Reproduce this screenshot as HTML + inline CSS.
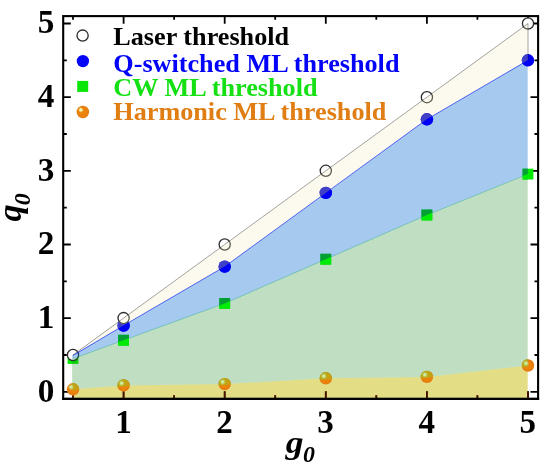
<!DOCTYPE html>
<html><head><meta charset="utf-8"><title>chart</title>
<style>
html,body{margin:0;padding:0;background:#fff;}
svg{display:block;}
text{font-family:"Liberation Serif","Times New Roman",serif;font-weight:bold;}
</style></head><body>
<svg width="550" height="469" viewBox="0 0 550 469">
<defs>
<radialGradient id="orb" cx="0.5" cy="0.5" r="0.5">
<stop offset="0" stop-color="#ee860e"/><stop offset="0.8" stop-color="#ea800c"/><stop offset="1" stop-color="#e07408"/>
</radialGradient>
<radialGradient id="hl" cx="0.5" cy="0.5" r="0.5">
<stop offset="0" stop-color="#f4ffe0" stop-opacity="1"/><stop offset="0.4" stop-color="#eef8b0" stop-opacity="0.95"/><stop offset="1" stop-color="#f0b040" stop-opacity="0"/>
</radialGradient>
<linearGradient id="orb2" x1="0" y1="0" x2="0.12" y2="1">
<stop offset="0" stop-color="#f4b818"/><stop offset="0.5" stop-color="#f0ae14"/><stop offset="0.52" stop-color="#ee840c"/><stop offset="1" stop-color="#e67a0a"/>
</linearGradient>
<clipPath id="cCream"><polygon points="72.1,355.0 123.6,318.1 224.7,244.5 325.8,170.8 426.9,97.2 527.7,23.5 527.7,60.3 426.9,119.3 325.8,192.9 224.7,266.6 123.6,325.5 72.1,355.5"/></clipPath>
<clipPath id="cBlue"><polygon points="72.1,355.5 123.6,325.5 224.7,266.6 325.8,192.9 426.9,119.3 527.7,60.3 527.7,174.1 426.9,215.0 325.8,259.2 224.7,303.4 123.6,340.2 72.1,358.7"/></clipPath>
<clipPath id="cGreen"><polygon points="72.1,358.7 123.6,340.2 224.7,303.4 325.8,259.2 426.9,215.0 527.7,174.1 527.7,365.5 426.9,376.9 325.8,378.3 224.7,384.1 123.6,385.4 72.1,389.3"/></clipPath>
<clipPath id="cGreen2"><polygon points="72.1,358.7 123.6,340.2 224.7,303.4 325.8,259.2 426.9,215.0 527.7,174.1 527.7,366.7 426.9,378.1 325.8,379.5 224.7,385.3 123.6,386.6 72.1,390.5"/></clipPath>
<mask id="notOpen" maskUnits="userSpaceOnUse" x="0" y="0" width="550" height="469"><rect width="550" height="469" fill="#fff"/><circle cx="73.0" cy="355.0" r="6.25" fill="#000"/><circle cx="123.6" cy="318.1" r="6.25" fill="#000"/><circle cx="224.7" cy="244.5" r="6.25" fill="#000"/><circle cx="325.8" cy="170.8" r="6.25" fill="#000"/><circle cx="426.9" cy="97.2" r="6.25" fill="#000"/><circle cx="528.0" cy="23.5" r="6.25" fill="#000"/></mask>
<g id="sph2"><circle r="6.2" fill="url(#orb)"/></g>
<linearGradient id="olv" x1="0" y1="0" x2="1" y2="0.6"><stop offset="0" stop-color="#b4aa18"/><stop offset="0.5" stop-color="#bca616"/><stop offset="1" stop-color="#d09a10"/></linearGradient>
<radialGradient id="hl2" cx="0.5" cy="0.5" r="0.5">
<stop offset="0" stop-color="#d8f8c8" stop-opacity="1"/><stop offset="0.35" stop-color="#c4ec9c" stop-opacity="0.95"/><stop offset="1" stop-color="#c8c040" stop-opacity="0"/>
</radialGradient>
<g id="sph"><circle r="6.2" fill="url(#orb)"/><circle cx="-2" cy="-2.1" r="3" fill="url(#hl)"/></g>
</defs>
<rect width="550" height="469" fill="#fff"/>

<rect x="63.2" y="16.1" width="474.9" height="382.8" fill="none" stroke="#000" stroke-width="2.1"/>
<path d="M63.2 391.8h7.6 M538.1 391.8h-7.6 M63.2 318.1h7.6 M538.1 318.1h-7.6 M63.2 244.5h7.6 M538.1 244.5h-7.6 M63.2 170.8h7.6 M538.1 170.8h-7.6 M63.2 97.2h7.6 M538.1 97.2h-7.6 M63.2 23.5h7.6 M538.1 23.5h-7.6 M63.2 355.0h3.6 M538.1 355.0h-3.6 M63.2 281.3h3.6 M538.1 281.3h-3.6 M63.2 207.7h3.6 M538.1 207.7h-3.6 M63.2 134.0h3.6 M538.1 134.0h-3.6 M63.2 60.3h3.6 M538.1 60.3h-3.6 M123.6 16.1v7.6 M123.6 398.9v-7.6 M224.7 16.1v7.6 M224.7 398.9v-7.6 M325.8 16.1v7.6 M325.8 398.9v-7.6 M426.9 16.1v7.6 M426.9 398.9v-7.6 M528.0 16.1v7.6 M528.0 398.9v-7.6 M73.0 16.1v3.6 M73.0 398.9v-3.6 M174.1 16.1v3.6 M174.1 398.9v-3.6 M275.2 16.1v3.6 M275.2 398.9v-3.6 M376.3 16.1v3.6 M376.3 398.9v-3.6 M477.4 16.1v3.6 M477.4 398.9v-3.6" stroke="#000" stroke-width="1.8" fill="none"/>
<polygon points="72.1,389.3 123.6,385.4 224.7,384.1 325.8,378.3 426.9,376.9 527.7,365.5 527.7,398.9 426.9,398.9 325.8,398.9 224.7,398.9 123.6,398.9 72.1,398.9" fill="rgb(199,189,11)" fill-opacity="0.5"/>
<path d="M123.6 398.9v-7.6 M224.7 398.9v-7.6 M325.8 398.9v-7.6 M426.9 398.9v-7.6 M528.0 398.9v-7.6 M73.0 398.9v-3.6 M174.1 398.9v-3.6 M275.2 398.9v-3.6 M376.3 398.9v-3.6 M477.4 398.9v-3.6" stroke="#4a1000" stroke-width="1.8" fill="none"/>
<use href="#sph2" x="73.0" y="389.3"/>
<use href="#sph2" x="123.6" y="385.4"/>
<use href="#sph2" x="224.7" y="384.1"/>
<use href="#sph2" x="325.8" y="378.3"/>
<use href="#sph2" x="426.9" y="376.9"/>
<use href="#sph2" x="528.0" y="365.5"/>
<rect x="67.6" y="353.1" width="10.8" height="10.8" fill="#00ea00"/>
<rect x="118.2" y="334.8" width="10.8" height="10.8" fill="#00ea00"/>
<rect x="219.3" y="298.0" width="10.8" height="10.8" fill="#00ea00"/>
<rect x="320.4" y="253.8" width="10.8" height="10.8" fill="#00ea00"/>
<rect x="421.5" y="209.6" width="10.8" height="10.8" fill="#00ea00"/>
<rect x="522.6" y="168.7" width="10.8" height="10.8" fill="#00ea00"/>
<circle cx="123.6" cy="325.5" r="6.2" fill="#0000f4"/>
<circle cx="224.7" cy="266.6" r="6.2" fill="#0000f4"/>
<circle cx="325.8" cy="192.9" r="6.2" fill="#0000f4"/>
<circle cx="426.9" cy="119.3" r="6.2" fill="#0000f4"/>
<circle cx="528.0" cy="60.3" r="6.2" fill="#0000f4"/>
<circle cx="73.0" cy="355.0" r="5.6" fill="#fff" stroke="#2a2a2a" stroke-width="1.3"/>
<circle cx="123.6" cy="318.1" r="5.6" fill="#fff" stroke="#2a2a2a" stroke-width="1.3"/>
<circle cx="224.7" cy="244.5" r="5.6" fill="#fff" stroke="#2a2a2a" stroke-width="1.3"/>
<circle cx="325.8" cy="170.8" r="5.6" fill="#fff" stroke="#2a2a2a" stroke-width="1.3"/>
<circle cx="426.9" cy="97.2" r="5.6" fill="#fff" stroke="#2a2a2a" stroke-width="1.3"/>
<circle cx="528.0" cy="23.5" r="5.6" fill="#fff" stroke="#2a2a2a" stroke-width="1.3"/>
<polygon points="72.1,355.0 123.6,318.1 224.7,244.5 325.8,170.8 426.9,97.2 527.7,23.5 527.7,60.3 426.9,119.3 325.8,192.9 224.7,266.6 123.6,325.5 72.1,355.5" fill="rgb(243,232,190)" fill-opacity="0.26"/>
<polygon points="72.1,355.5 123.6,325.5 224.7,266.6 325.8,192.9 426.9,119.3 527.7,60.3 527.7,174.1 426.9,215.0 325.8,259.2 224.7,303.4 123.6,340.2 72.1,358.7" fill="rgb(8,105,211)" fill-opacity="0.36"/>
<polygon points="72.1,358.7 123.6,340.2 224.7,303.4 325.8,259.2 426.9,215.0 527.7,174.1 527.7,365.5 426.9,376.9 325.8,378.3 224.7,384.1 123.6,385.4 72.1,389.3" fill="rgb(22,136,29)" fill-opacity="0.27"/>
<polyline points="73.0,355.0 123.6,318.1 224.7,244.5 325.8,170.8 426.9,97.2 528.0,23.5 528.0,60.3" fill="none" stroke="#000" stroke-width="0.9" stroke-opacity="0.4"/>
<polyline points="73.0,355.5 123.6,325.5 224.7,266.6 325.8,192.9 426.9,119.3 528.0,60.3" fill="none" stroke="#0010f0" stroke-width="1.0" stroke-opacity="0.6"/>
<polyline points="73.0,358.7 123.6,340.2 224.7,303.4 325.8,259.2 426.9,215.0 528.0,174.1" fill="none" stroke="#00a080" stroke-width="0.9" stroke-opacity="0.4"/>
<g mask="url(#notOpen)">
<g clip-path="url(#cCream)"><circle cx="123.6" cy="325.5" r="6.2" fill="#4040c6"/><circle cx="224.7" cy="266.6" r="6.2" fill="#4040c6"/><circle cx="325.8" cy="192.9" r="6.2" fill="#4040c6"/><circle cx="426.9" cy="119.3" r="6.2" fill="#4040c6"/><circle cx="528.0" cy="60.3" r="6.2" fill="#4040c6"/></g>
<g clip-path="url(#cBlue)"><circle cx="123.6" cy="325.5" r="6.2" fill="#0000f5"/><circle cx="224.7" cy="266.6" r="6.2" fill="#0000f5"/><circle cx="325.8" cy="192.9" r="6.2" fill="#0000f5"/><circle cx="426.9" cy="119.3" r="6.2" fill="#0000f5"/><circle cx="528.0" cy="60.3" r="6.2" fill="#0000f5"/><rect x="118.2" y="334.8" width="10.8" height="10.8" fill="#00a032"/><rect x="219.3" y="298.0" width="10.8" height="10.8" fill="#00a032"/><rect x="320.4" y="253.8" width="10.8" height="10.8" fill="#00a032"/><rect x="421.5" y="209.6" width="10.8" height="10.8" fill="#00a032"/><rect x="522.6" y="168.7" width="10.8" height="10.8" fill="#00a032"/></g>
<g clip-path="url(#cGreen)"><rect x="118.2" y="334.8" width="10.8" height="10.8" fill="#00eb05"/><rect x="219.3" y="298.0" width="10.8" height="10.8" fill="#00eb05"/><rect x="320.4" y="253.8" width="10.8" height="10.8" fill="#00eb05"/><rect x="421.5" y="209.6" width="10.8" height="10.8" fill="#00eb05"/><rect x="522.6" y="168.7" width="10.8" height="10.8" fill="#00eb05"/></g>
</g>
<g clip-path="url(#cGreen2)"><circle cx="73.0" cy="389.3" r="6.2" fill="url(#olv)"/><circle cx="123.6" cy="385.4" r="6.2" fill="url(#olv)"/><circle cx="224.7" cy="384.1" r="6.2" fill="url(#olv)"/><circle cx="325.8" cy="378.3" r="6.2" fill="url(#olv)"/><circle cx="426.9" cy="376.9" r="6.2" fill="url(#olv)"/><circle cx="528.0" cy="365.5" r="6.2" fill="url(#olv)"/></g>
<circle cx="71.0" cy="387.1" r="3.3" fill="url(#hl2)"/><circle cx="121.6" cy="383.2" r="3.3" fill="url(#hl2)"/><circle cx="222.7" cy="381.9" r="3.3" fill="url(#hl2)"/><circle cx="323.8" cy="376.1" r="3.3" fill="url(#hl2)"/><circle cx="424.9" cy="374.7" r="3.3" fill="url(#hl2)"/><circle cx="526.0" cy="363.3" r="3.3" fill="url(#hl2)"/>
<path d="M62.150000000000006 398.9H539.15" stroke="#000" stroke-width="2.1"/>
<circle cx="82.6" cy="35.6" r="5.6" fill="#fff" stroke="#2a2a2a" stroke-width="1.3"/>
<circle cx="82.9" cy="61.1" r="6.2" fill="#0404f6"/>
<rect x="77.2" y="80.9" width="11" height="11" fill="#08e608"/>
<use href="#sph" x="82.85" y="112"/>
<text x="113.3" y="44.6" font-size="26.2" fill="#000">Laser threshold</text>
<text x="113.3" y="71.5" font-size="26.2" fill="#0202fa">Q-switched ML threshold</text>
<text x="113.3" y="95.7" font-size="26.2" fill="#14e014">CW ML threshold</text>
<text x="113.3" y="120.2" font-size="26.2" fill="#e07e14">Harmonic ML threshold</text>
<text x="54.4" y="401.7" font-size="33.2" text-anchor="end" fill="#000">0</text>
<text x="54.4" y="328.0" font-size="33.2" text-anchor="end" fill="#000">1</text>
<text x="54.4" y="254.4" font-size="33.2" text-anchor="end" fill="#000">2</text>
<text x="54.4" y="180.7" font-size="33.2" text-anchor="end" fill="#000">3</text>
<text x="54.4" y="107.1" font-size="33.2" text-anchor="end" fill="#000">4</text>
<text x="54.4" y="33.4" font-size="33.2" text-anchor="end" fill="#000">5</text>
<text x="123.4" y="432.6" font-size="33" text-anchor="middle" fill="#000">1</text>
<text x="224.5" y="432.6" font-size="33" text-anchor="middle" fill="#000">2</text>
<text x="325.6" y="432.6" font-size="33" text-anchor="middle" fill="#000">3</text>
<text x="426.7" y="432.6" font-size="33" text-anchor="middle" fill="#000">4</text>
<text x="527.8" y="432.6" font-size="33" text-anchor="middle" fill="#000">5</text>
<text transform="translate(285.8,453.3) scale(1.09,1)" font-size="32.5" font-style="italic" fill="#000">g</text>
<text x="303" y="461.8" font-size="23.8" font-style="italic" fill="#000">0</text>
<text transform="translate(20.5,221.5) rotate(-90)" font-size="34" font-style="italic" fill="#000">q<tspan font-size="23.8" dx="-0.7" dy="9.8">0</tspan></text>
</svg></body></html>
